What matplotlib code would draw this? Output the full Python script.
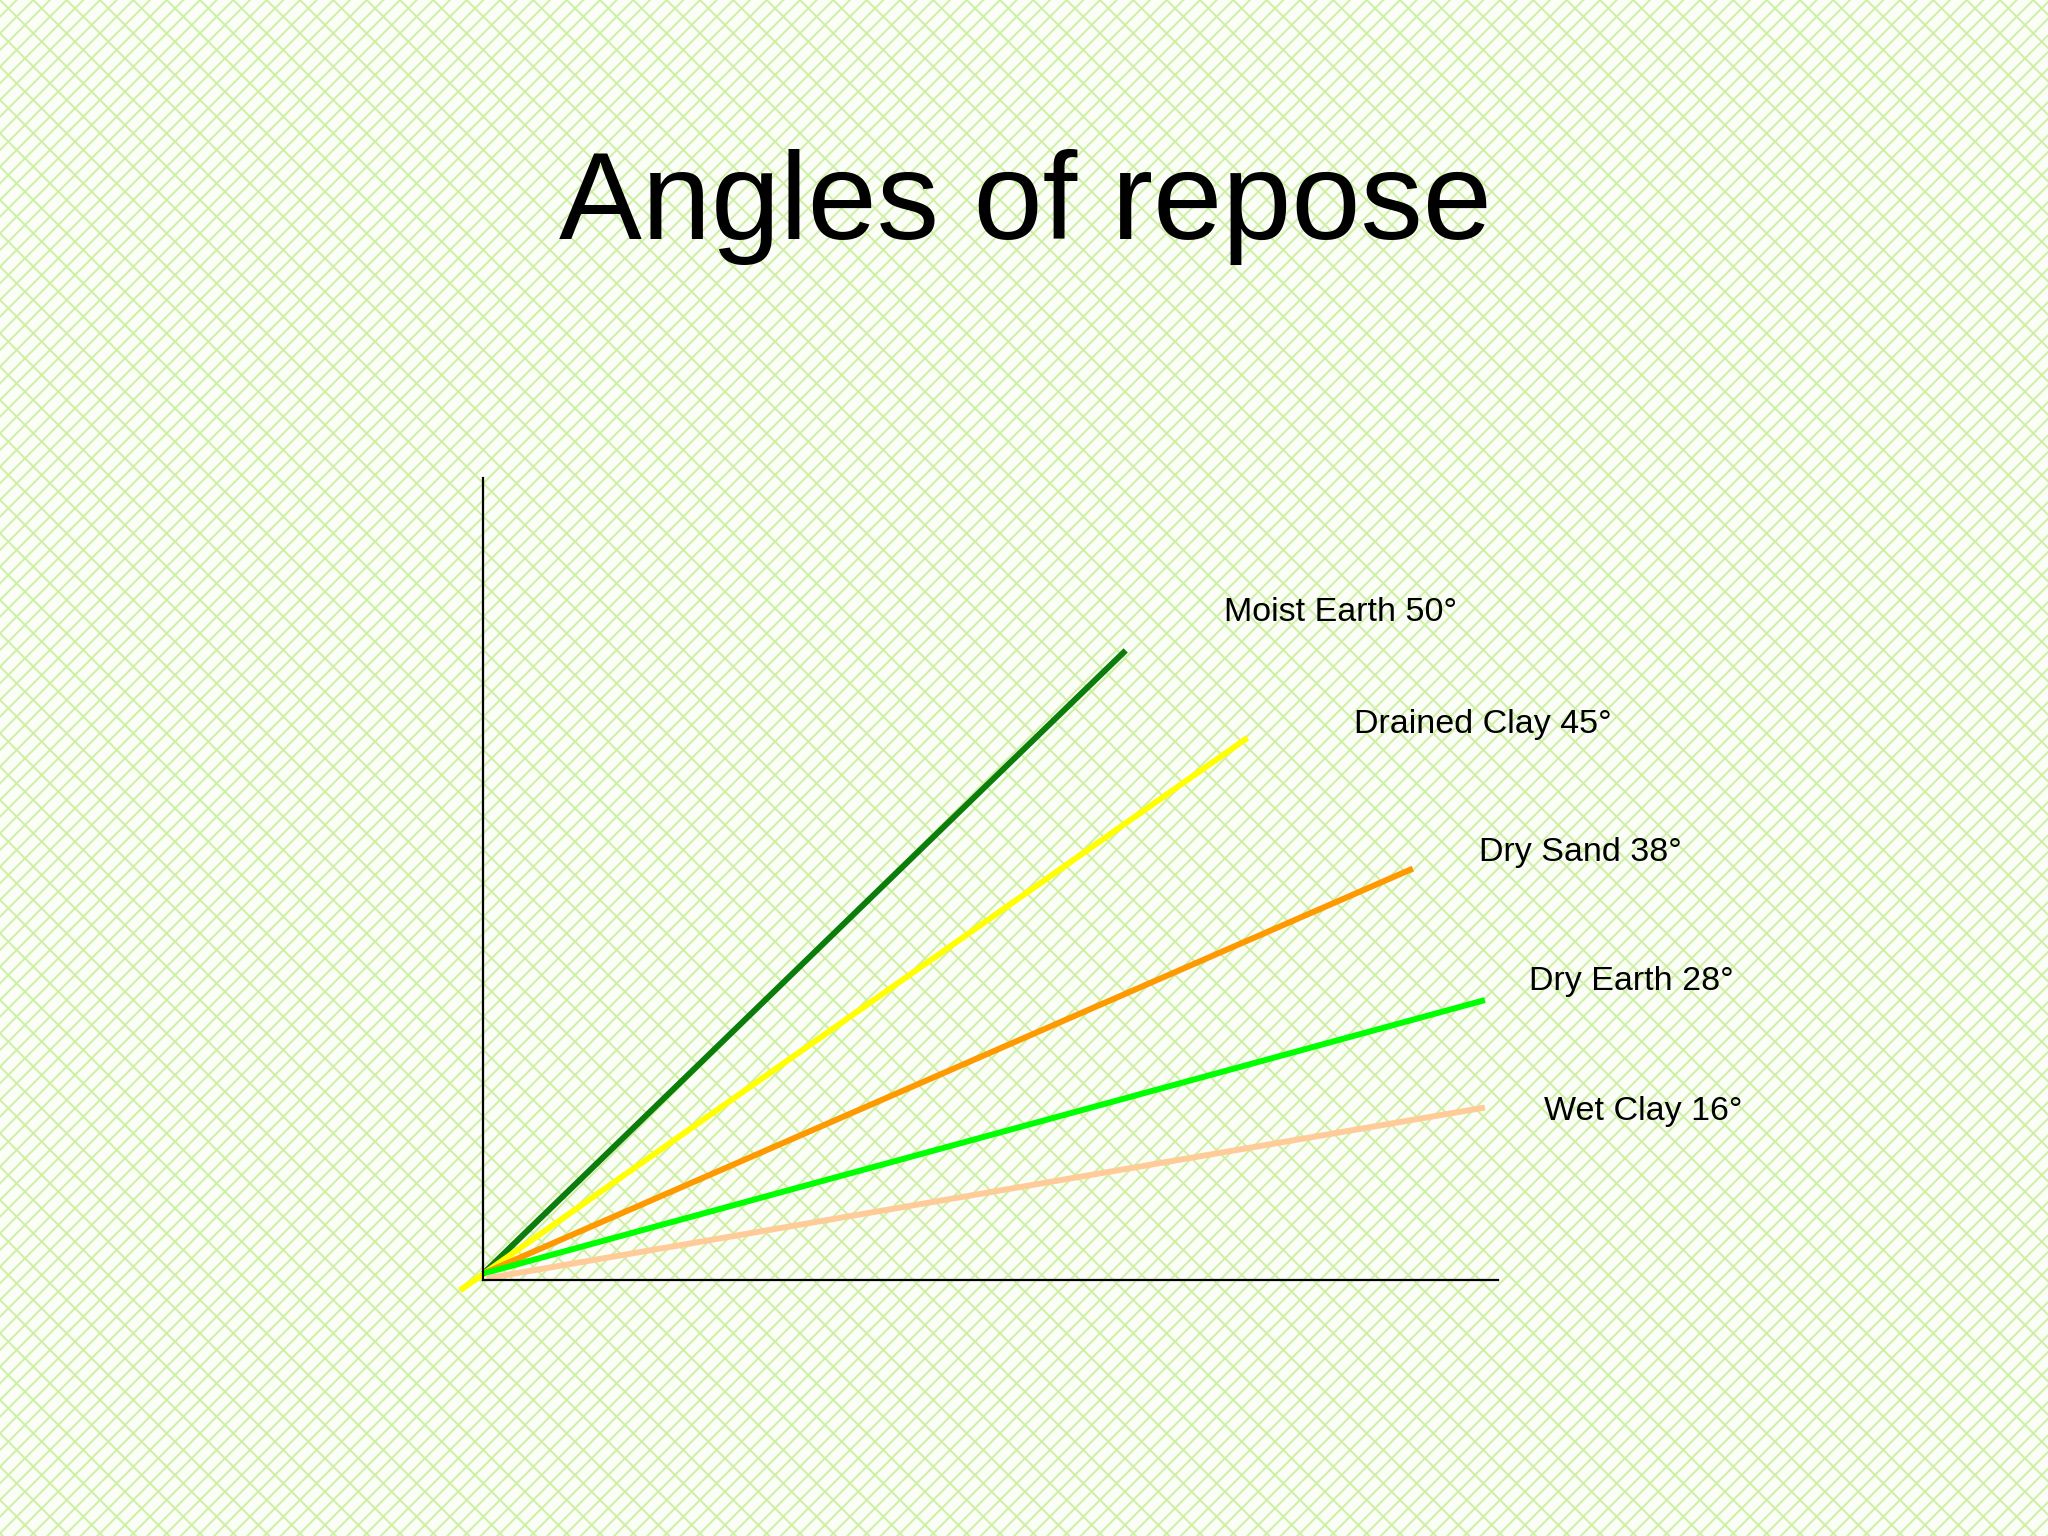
import matplotlib
matplotlib.use("Agg")
import matplotlib.pyplot as plt
from matplotlib.patches import Rectangle

# ---- data ----
title = "Angles of repose"
materials = ["Moist Earth", "Drained Clay", "Dry Sand", "Dry Earth", "Wet Clay"]
angles = [50, 45, 38, 28, 16]
colors = ["#0a7d0a", "#ffff00", "#ff9900", "#00ff00", "#ffcc99"]
start_x = [0.0, -2.3, 0.0, 0.0, 0.3]
start_y = [0.8, -1.3, 0.8, 0.8, 0.2]
end_x = [63.3, 75.3, 91.6, 98.7, 98.7]
end_y = [78.5, 67.6, 51.3, 34.9, 21.5]
label_x = [73.0, 85.8, 98.1, 103.0, 104.5]
label_y = [82.2, 68.2, 52.2, 36.1, 20.0]

plt.rcParams['font.family'] = ['Liberation Sans', 'DejaVu Sans']
plt.rcParams['hatch.color'] = '#d0efa6'
plt.rcParams['hatch.linewidth'] = 1.4

fig = plt.figure(figsize=(20.48, 15.36), dpi=100)
fig.patch.set_facecolor('white')
bg = Rectangle((0, 0), 1, 1, transform=fig.transFigure, facecolor='#fbfef7',
               edgecolor='#d0efa6', hatch='//\\', linewidth=0, zorder=-10)
fig.patches.append(bg)

fig.text(0.5006, 0.8444, title, ha='center', va='baseline', fontsize=89.5, color='black')

ax = fig.add_axes([0.236, 0.1667, 0.4955, 0.5221])
ax.set_facecolor('none')
ax.set_xlim(0, 100)
ax.set_ylim(0, 100)
for s in ['top', 'right']:
    ax.spines[s].set_visible(False)
for s in ['left', 'bottom']:
    ax.spines[s].set_linewidth(1.6)
    ax.spines[s].set_color('black')
    ax.spines[s].set_zorder(5)
ax.set_xticks([])
ax.set_yticks([])

for m, a, c, x0, y0, x1, y1, lx, ly in zip(materials, angles, colors, start_x, start_y,
                                           end_x, end_y, label_x, label_y):
    ax.plot([x0, x1], [y0, y1], color=c, lw=4.3, solid_capstyle='butt', clip_on=False, zorder=3)
    ax.text(lx, ly, f"{m} {a}°", ha='left', va='baseline', fontsize=24.5, color='black',
            clip_on=False)

fig.savefig("out.png", dpi=100)
